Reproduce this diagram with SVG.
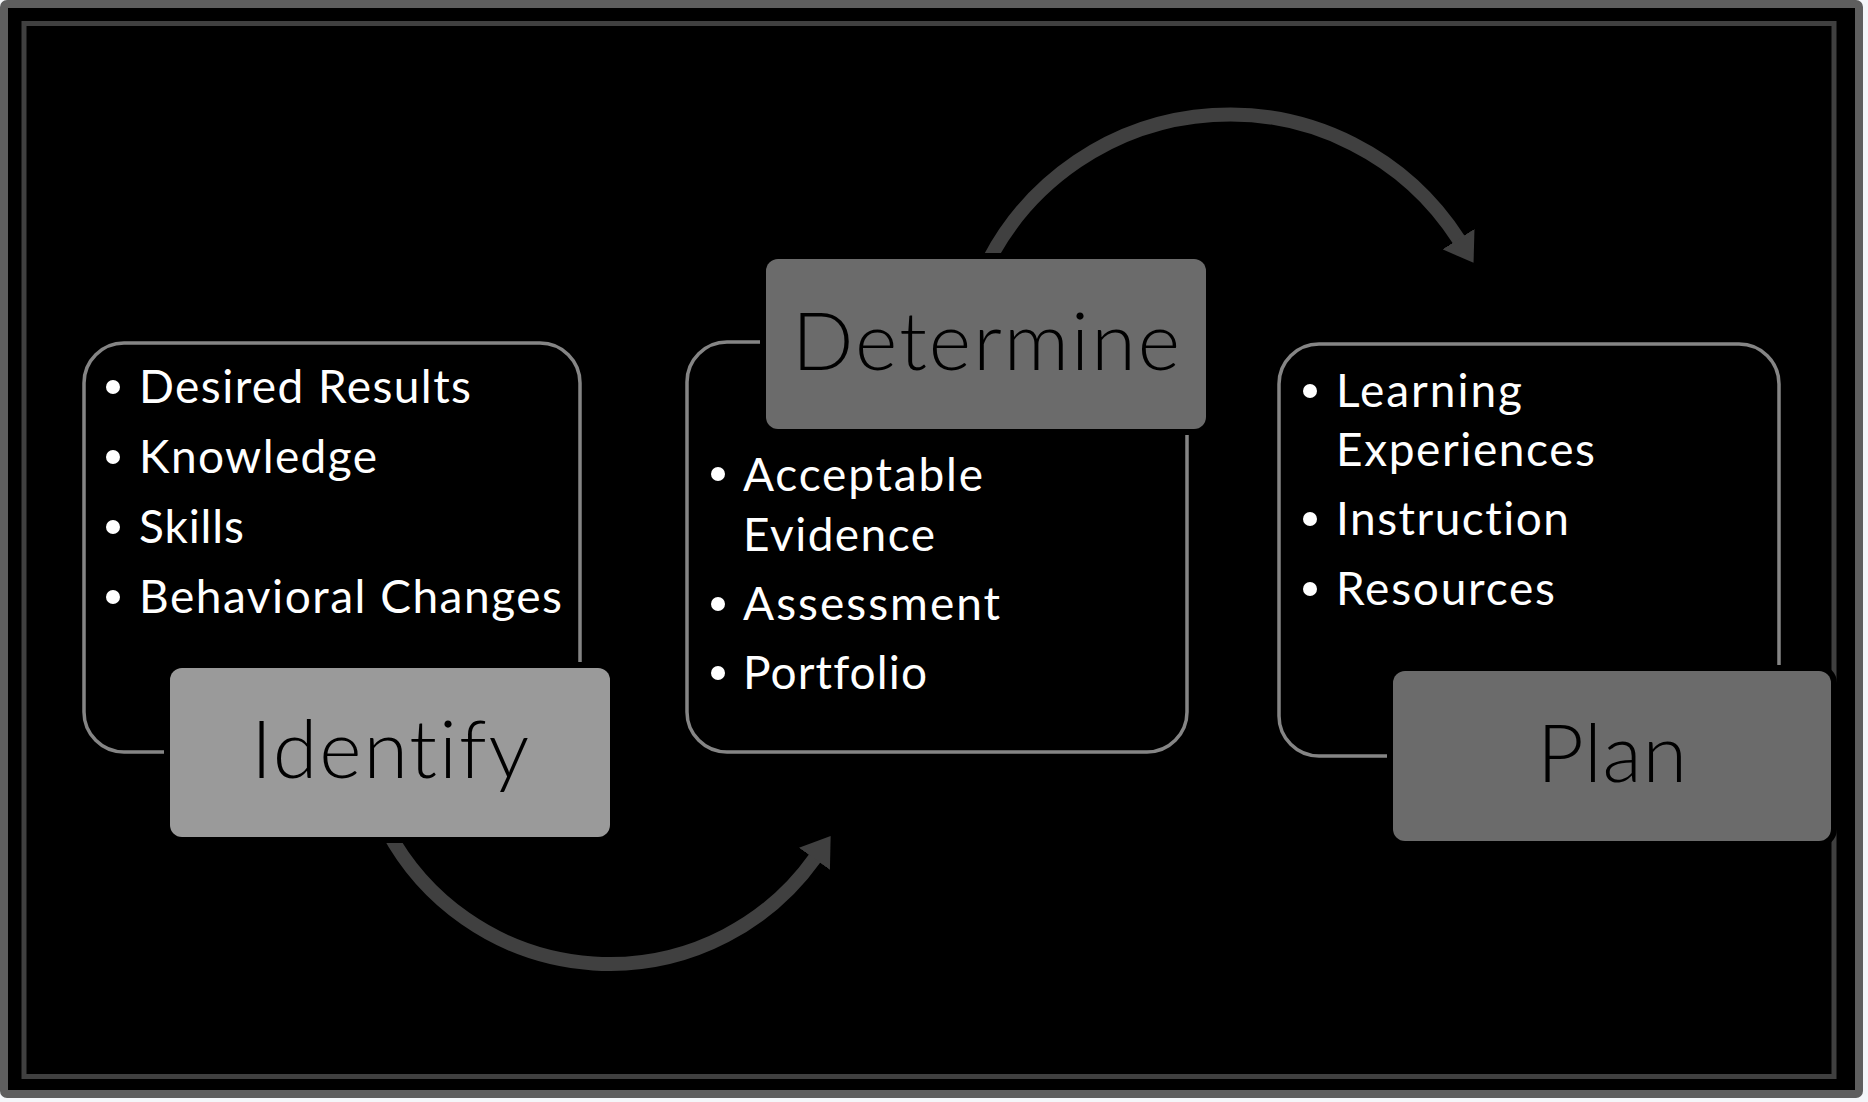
<svg xmlns="http://www.w3.org/2000/svg" width="1868" height="1102" viewBox="0 0 1868 1102">
<style>
.outline{fill:none;stroke:#858585;stroke-width:3.5}
.box{stroke:#000;stroke-width:12;paint-order:stroke}
.label{font-family:Lato,"Open Sans","Liberation Sans",sans-serif;font-weight:300;font-size:81px;fill:#000;text-anchor:middle;font-variant-ligatures:none}
.item{font-family:Lato,"Open Sans","Liberation Sans",sans-serif;font-weight:400;font-size:46px;fill:#fff;font-variant-ligatures:none}
.dot{fill:#fff}
.arc{fill:none;stroke:#404040;stroke-width:14}
</style>
<defs>
<marker id="head" markerUnits="userSpaceOnUse" viewBox="0 0 28 38" refX="1" refY="19" markerWidth="28" markerHeight="38" orient="auto">
<path d="M0,0 L28,19 L0,38 z" fill="#404040"/>
</marker>
</defs>
<rect x="0" y="0" width="1868" height="1102" fill="#f4f6f9"/>
<rect x="4" y="4" width="1855" height="1090" rx="3" fill="#000" stroke="#5e5e5e" stroke-width="8"/>
<rect x="24" y="23.5" width="1810" height="1053" fill="none" stroke="#404040" stroke-width="5"/>

<g id="connectors">
<path class="arc" d="M387,830 A252,252 0 0 0 815,858" marker-end="url(#head)"/>
<path class="arc" d="M984,270 A272,272 0 0 1 1459,240" marker-end="url(#head)"/>
</g>

<g id="identify">
<rect class="outline" x="84" y="343" width="496" height="409" rx="40"/>
<circle class="dot" cx="113" cy="387" r="7"/>
<text class="item" x="139" y="403" textLength="332">Desired Results</text>
<circle class="dot" cx="113" cy="457" r="7"/>
<text class="item" x="139" y="473" textLength="238">Knowledge</text>
<circle class="dot" cx="113" cy="527" r="7"/>
<text class="item" x="139" y="543" textLength="105">Skills</text>
<circle class="dot" cx="113" cy="597" r="7"/>
<text class="item" x="139" y="613" textLength="423">Behavioral Changes</text>
<rect class="box" x="170" y="668" width="440" height="169" rx="12" fill="#9a9a9a"/>
<text class="label" x="390" y="778" textLength="278">Identify</text>
</g>

<g id="determine">
<rect class="outline" x="687" y="342" width="500" height="410" rx="40"/>
<circle class="dot" cx="718" cy="474" r="7"/>
<text class="item" x="743" y="491" textLength="240">Acceptable</text>
<text class="item" x="743" y="551" textLength="192">Evidence</text>
<circle class="dot" cx="718" cy="604" r="7"/>
<text class="item" x="743" y="620" textLength="257">Assessment</text>
<circle class="dot" cx="718" cy="673" r="7"/>
<text class="item" x="743" y="689" textLength="184">Portfolio</text>
<rect class="box" x="766" y="259" width="440" height="170" rx="12" fill="#6b6b6b"/>
<text class="label" x="986" y="370" textLength="388">Determine</text>
</g>

<g id="plan">
<rect class="outline" x="1279" y="344" width="500" height="412" rx="40"/>
<circle class="dot" cx="1310" cy="391" r="7"/>
<text class="item" x="1336" y="407" textLength="186">Learning</text>
<text class="item" x="1336" y="466" textLength="259">Experiences</text>
<circle class="dot" cx="1310" cy="519" r="7"/>
<text class="item" x="1336" y="535" textLength="233">Instruction</text>
<circle class="dot" cx="1310" cy="589" r="7"/>
<text class="item" x="1336" y="605" textLength="219">Resources</text>
<rect class="box" x="1393" y="671" width="438" height="170" rx="12" fill="#6b6b6b"/>
<text class="label" x="1612" y="782" textLength="150">Plan</text>
</g>
</svg>
